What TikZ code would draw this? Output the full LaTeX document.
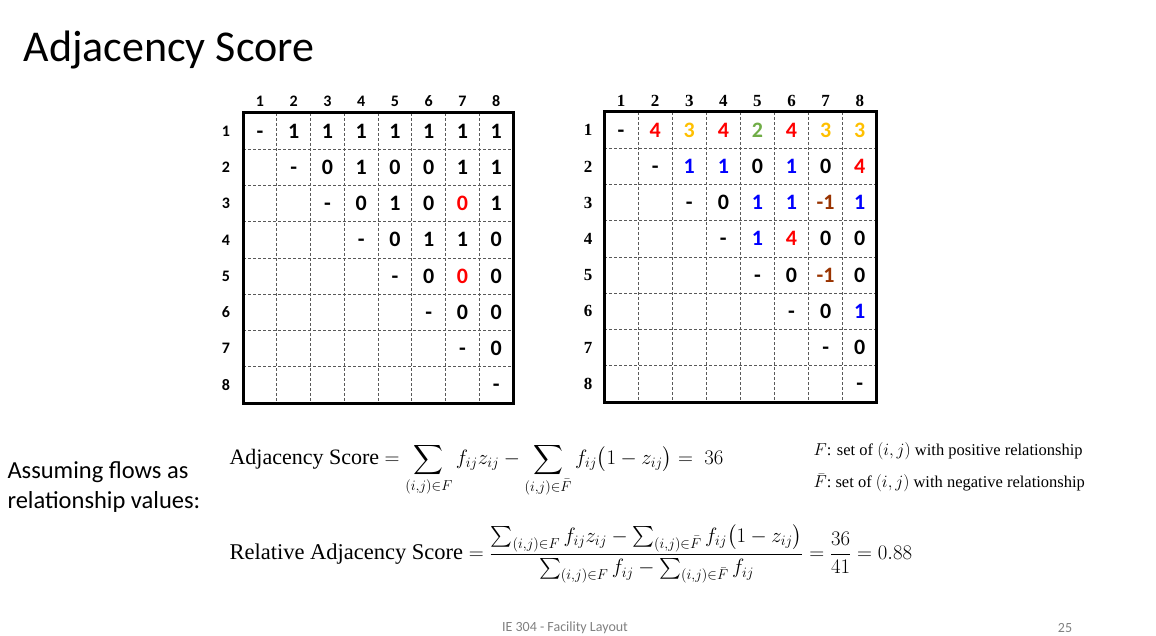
\documentclass[tikz,border=0pt]{standalone}
\usepackage{fontspec}
\usepackage{amsmath}
\setmainfont{Carlito}
\newfontfamily\serifb{Liberation Serif}
\definecolor{myred}{RGB}{255,0,0}
\definecolor{myyel}{RGB}{255,192,0}
\definecolor{mygrn}{RGB}{112,173,71}
\definecolor{myblu}{RGB}{0,0,255}
\definecolor{mybrn}{RGB}{153,51,0}
\begin{document}
\begin{tikzpicture}[x=1pt,y=-1pt,
  cellnum/.style={font=\fontsize{22}{22}\selectfont\bfseries,text height=14pt,text depth=0pt},
  hdr/.style={font=\fontsize{16}{16}\selectfont\bfseries},
  hdrs/.style={font=\fontsize{17}{17}\selectfont\serifb\bfseries},
  inner/.style={gray!70!black, densely dashed, line width=0.6pt},
  outer/.style={black, line width=3pt}]
\useasboundingbox (0,0) rectangle (1156,636);
\node[anchor=west,font=\fontsize{44}{44}\selectfont] (title) at (20,50) {Adjacency Score};
% left matrix
\def\LX{243}\def\LY{113}\def\CW{33.75}\def\CH{36.25}
\foreach \i in {1,...,7}{
  \draw[inner] (\LX+\i*\CW,\LY) -- (\LX+\i*\CW,\LY+8*\CH);
  \draw[inner] (\LX,\LY+\i*\CH) -- (\LX+8*\CW,\LY+\i*\CH);}
\draw[outer] (\LX,\LY) rectangle (\LX+8*\CW,\LY+8*\CH);
\foreach \i in {1,...,8}{
  \node[hdr] (lc\i) at (\LX+\i*\CW-\CW/2,101) {\i};
  \node[hdr] (lr\i) at (226,\LY+\i*\CH-\CH/2) {\i};}
\foreach \r/\c/\v/\col in {
 1/1/-/black,1/2/1/black,1/3/1/black,1/4/1/black,1/5/1/black,1/6/1/black,1/7/1/black,1/8/1/black,
 2/2/-/black,2/3/0/black,2/4/1/black,2/5/0/black,2/6/0/black,2/7/1/black,2/8/1/black,
 3/3/-/black,3/4/0/black,3/5/1/black,3/6/0/black,3/7/0/myred,3/8/1/black,
 4/4/-/black,4/5/0/black,4/6/1/black,4/7/1/black,4/8/0/black,
 5/5/-/black,5/6/0/black,5/7/0/myred,5/8/0/black,
 6/6/-/black,6/7/0/black,6/8/0/black,
 7/7/-/black,7/8/0/black,
 8/8/-/black}
  \node[cellnum,text=\col] (l\r-\c) at (\LX+\c*\CW-\CW/2,\LY+\r*\CH-\CH/2) {\v};
% right matrix
\def\RX{604}\def\RY{112}\def\RW{34.1}
\foreach \i in {1,...,7}{
  \draw[inner] (\RX+\i*\RW,\RY) -- (\RX+\i*\RW,\RY+8*\CH);
  \draw[inner] (\RX,\RY+\i*\CH) -- (\RX+8*\RW,\RY+\i*\CH);}
\draw[outer] (\RX,\RY) rectangle (\RX+8*\RW,\RY+8*\CH);
\foreach \i in {1,...,8}{
  \node[hdrs] (rc\i) at (\RX+\i*\RW-\RW/2,101) {\i};
  \node[hdrs] (rr\i) at (588,\RY+\i*\CH-\CH/2) {\i};}
\foreach \r/\c/\v/\col in {
 1/1/-/black,1/2/4/myred,1/3/3/myyel,1/4/4/myred,1/5/2/mygrn,1/6/4/myred,1/7/3/myyel,1/8/3/myyel,
 2/2/-/black,2/3/1/myblu,2/4/1/myblu,2/5/0/black,2/6/1/myblu,2/7/0/black,2/8/4/myred,
 3/3/-/black,3/4/0/black,3/5/1/myblu,3/6/1/myblu,3/7/-1/mybrn,3/8/1/myblu,
 4/4/-/black,4/5/1/myblu,4/6/4/myred,4/7/0/black,4/8/0/black,
 5/5/-/black,5/6/0/black,5/7/-1/mybrn,5/8/0/black,
 6/6/-/black,6/7/0/black,6/8/1/myblu,
 7/7/-/black,7/8/0/black,
 8/8/-/black}
  \node[cellnum,text=\col] (r\r-\c) at (\RX+\c*\RW-\RW/2,\RY+\r*\CH-\CH/2) {\v};
% left text
\node[anchor=west,align=left,font=\fontsize{24.5}{30}\selectfont] (assume) at (4,487) {Assuming flows as\\relationship values:};
% formulas
\node[anchor=west,font=\fontsize{22}{26}\selectfont] (f1) at (226,470)
 {\serifb Adjacency Score $=\displaystyle\sum_{(i,j)\in F} f_{ij}z_{ij}-\sum_{(i,j)\in\bar F} f_{ij}\bigl(1-z_{ij}\bigr)=\;36$};
\node[anchor=west,font=\fontsize{16.5}{18}\selectfont\serifb] (d1) at (810,451) {$F$: set of $(i,j)$ with positive relationship};
\node[anchor=west,font=\fontsize{16.5}{18}\selectfont\serifb] (d2) at (810,483) {$\bar F$:\ set of $(i,j)$ with negative relationship};
\node[anchor=west,font=\fontsize{22.5}{26}\selectfont] (f2) at (226,554)
 {\serifb Relative Adjacency Score $=\dfrac{\sum_{(i,j)\in F} f_{ij}z_{ij}-\sum_{(i,j)\in\bar F} f_{ij}\bigl(1-z_{ij}\bigr)}{\sum_{(i,j)\in F} f_{ij}-\sum_{(i,j)\in\bar F} f_{ij}}=\dfrac{36}{41}=0.88$};
% footer
\node[font=\fontsize{14}{14}\selectfont,text=gray] (foot) at (565,628) {IE 304 - Facility Layout};
\node[font=\fontsize{14}{14}\selectfont,text=gray] (pg) at (1065,628) {25};
\end{tikzpicture}
\end{document}
